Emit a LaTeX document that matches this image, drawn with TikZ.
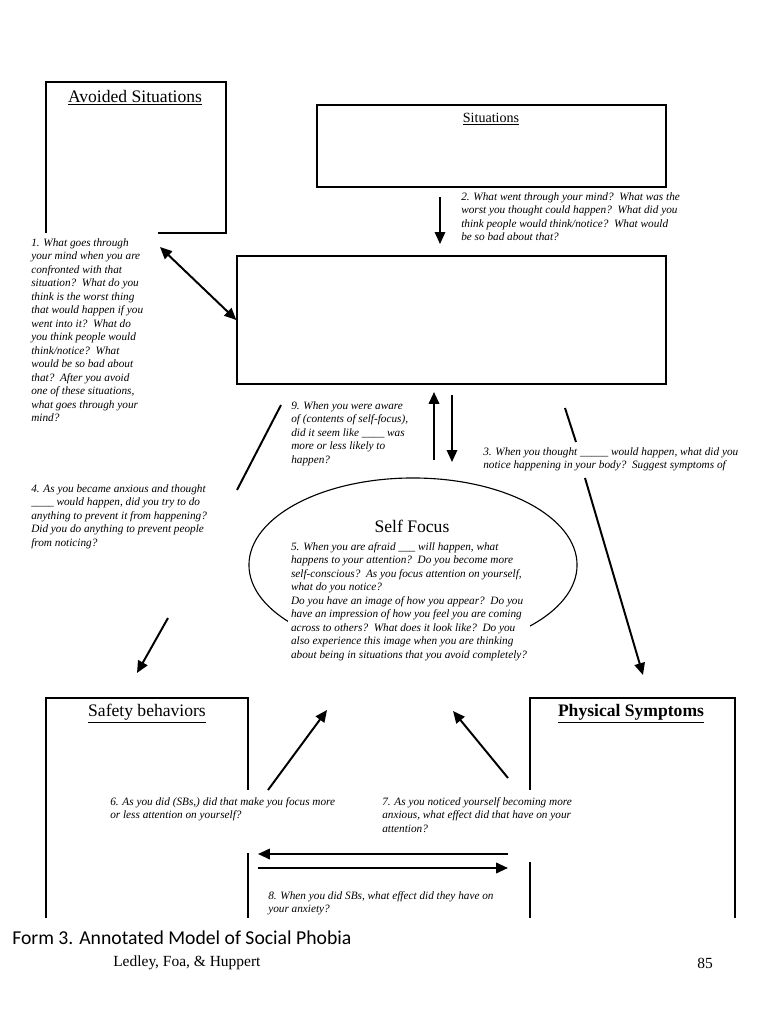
\documentclass[tikz,border=0pt]{standalone}
\usepackage{fontspec}
\setmainfont{Liberation Serif}
\newfontfamily\formfont{Carlito}
\usetikzlibrary{arrows.meta,shapes.geometric}

\tikzset{
  box/.style      = {shape=rectangle, draw, line width=0.9pt},
  frame/.style    = {draw, line width=0.9pt},
  heading/.style  = {inner sep=0pt, font=\fontsize{12.5}{14}\selectfont},
  question/.style = {anchor=north west, inner sep=0pt, align=left,
                     font=\fontsize{8}{9.6}\selectfont\itshape},
  link/.style     = {draw, line width=1.4pt, -{Triangle[length=8.5pt,width=7.5pt]}},
  thinlink/.style = {draw, line width=1pt, -{Triangle[length=8.5pt,width=7.5pt]}},
  bare/.style     = {draw, line width=1.4pt}
}

\begin{document}
\begin{tikzpicture}[x=0.025cm, y=-0.025cm]
\useasboundingbox (0,0) rectangle (768,1024);

% boxes
\draw[frame] (46,233) -- (46,82) -- (226,82) -- (226,233) -- (158,233);
\node[heading] (avoided) at (135,98) {\underline{Avoided Situations}};

\node[box, minimum width=8.725cm, minimum height=2.05cm] (sit) at (491.5,146) {};
\node[heading, font=\fontsize{10}{12}\selectfont] (sittitle) at (491,119) {\underline{Situations}};

\node[box, minimum width=10.725cm, minimum height=3.2cm] (mind) at (451.5,320) {};

\draw[frame] (46,918) -- (46,698) -- (248,698) -- (248,790);
\draw[frame] (248,853) -- (248,918);
\node[heading] (safety) at (147,714) {\underline{Safety behaviors}};

\draw[frame] (530,790) -- (530,698) -- (735,698) -- (735,918);
\draw[frame] (530,862) -- (530,918);
\node[heading, font=\fontsize{12.5}{14}\selectfont\bfseries] (physical) at (631,714) {\underline{Physical Symptoms}};

\node[ellipse, draw, line width=0.8pt, minimum width=8.2cm, minimum height=4.35cm] (focus) at (413,565) {};
\node[heading] (focustitle) at (412,526) {Self Focus};

% arrow ends
\coordinate (a2s) at (440,197);
\coordinate (a2e) at (440,244);
\coordinate (a1s) at (160,247);
\coordinate (upS) at (434,460);
\coordinate (upE) at (434,392);
\coordinate (dnS) at (452,395);
\coordinate (dnE) at (452,462);
\coordinate (l9s) at (281,405);
\coordinate (l9e) at (237,490);
\coordinate (a4s) at (168,618);
\coordinate (a4e) at (137,673);
\coordinate (l3s) at (565,408);
\coordinate (l3e) at (576,442);
\coordinate (a3s) at (585,478);
\coordinate (a3e) at (643,675);
\coordinate (a6s) at (268,790);
\coordinate (a6e) at (327,710);
\coordinate (a7s) at (508,778);
\coordinate (a7e) at (453,711);
\coordinate (a8r) at (508,854);
\coordinate (a8l) at (258,854);
\coordinate (b8l) at (258,868);
\coordinate (b8r) at (508,868);

% connectors
\draw[thinlink] (a2s) -- (a2e);
\draw[link, {Triangle[length=8.5pt,width=7.5pt]}-{Triangle[length=8.5pt,width=7.5pt]}] (a1s) -- (mind.west);
\draw[link] (upS) -- (upE);
\draw[thinlink] (dnS) -- (dnE);
\draw[bare] (l9s) -- (l9e);
\draw[link] (a4s) -- (a4e);
\draw[bare] (l3s) -- (l3e);
\draw[link] (a3s) -- (a3e);
\draw[link] (a6s) -- (a6e);
\draw[link] (a7s) -- (a7e);
\draw[link] (a8r) -- (a8l);
\draw[link] (b8l) -- (b8r);

% questions
\node[question] (q1) at (31,238) {1. What goes through\\your mind when you are\\confronted with that\\situation?\ \ What do you\\think is the worst thing\\that would happen if you\\went into it?\ \ What do\\you think people would\\think/notice?\ \ What\\would be so bad about\\that?\ \ After you avoid\\one of these situations,\\what goes through your\\mind?};
\node[question] (q2) at (461,192) {2. What went through your mind?\ \ What was the\\worst you thought could happen?\ \ What did you\\think people would think/notice?\ \ What would\\be so bad about that?};
\node[question] (q9) at (291,401) {9. When you were aware\\of (contents of self-focus),\\did it seem like \_\_\_\_ was\\more or less likely to\\happen?};
\node[question] (q3) at (483,447) {3. When you thought \_\_\_\_\_ would happen, what did you\\notice happening in your body?\ \ Suggest symptoms of};
\node[question] (q4) at (31,484) {4. As you became anxious and thought\\\_\_\_\_ would happen, did you try to do\\anything to prevent it from happening?\\Did you do anything to prevent people\\from noticing?};
\node[question, fill=white, inner sep=2pt] (q5) at (288,539) {5. When you are afraid \_\_\_ will happen, what\\happens to your attention?\ \ Do you become more\\self-conscious?\ \ As you focus attention on yourself,\\what do you notice?\\Do you have an image of how you appear?\ \ Do you\\have an impression of how you feel you are coming\\across to others?\ \ What does it look like?\ \ Do you\\also experience this image when you are thinking\\about being in situations that you avoid completely?};
\node[question] (q6) at (110,797) {6. As you did (SBs,) did that make you focus more\\or less attention on yourself?};
\node[question] (q7) at (382,797) {7. As you noticed yourself becoming more\\anxious, what effect did that have on your\\attention?};
\node[question] (q8) at (268,891) {8. When you did SBs, what effect did they have on\\your anxiety?};

% footer
\node[anchor=west, inner sep=0pt, font=\formfont\fontsize{14}{16}\selectfont] (form) at (12,938) {Form 3. Annotated Model of Social Phobia};
\node[anchor=west, inner sep=0pt, font=\fontsize{11}{13}\selectfont] (authors) at (113,963) {Ledley, Foa, \& Huppert};
\node[anchor=west, inner sep=0pt, font=\fontsize{11}{13}\selectfont] (page) at (697,963) {85};
\end{tikzpicture}
\end{document}
